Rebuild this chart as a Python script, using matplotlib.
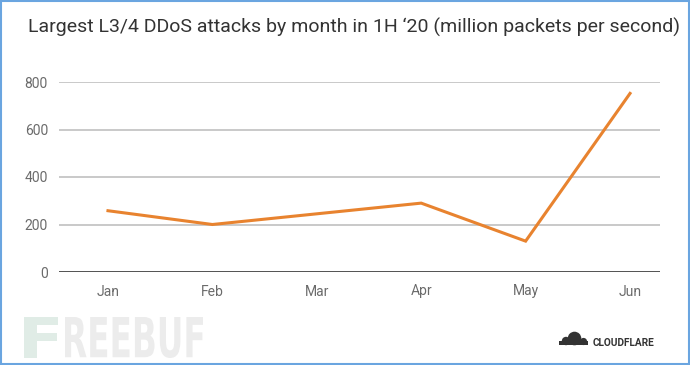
import matplotlib
matplotlib.use("Agg")
import matplotlib.pyplot as plt
from matplotlib.patches import Rectangle, Circle, PathPatch
from matplotlib.textpath import TextPath
from matplotlib.font_manager import FontProperties
from matplotlib.transforms import Affine2D

months = ["Jan", "Feb", "Mar", "Apr", "May", "Jun"]
mpps = [258, 200, 245, 290, 130, 752]
yticks = [0, 200, 400, 600, 800]

plt.rcParams['font.family'] = ['Roboto', 'DejaVu Sans']

W, H = 690, 365
fig = plt.figure(figsize=(W/100, H/100), dpi=100)

# overlay in pixel coordinates for decorations
ov = fig.add_axes([0, 0, 1, 1], zorder=-1)
ov.set_xlim(0, W)
ov.set_ylim(H, 0)
ov.axis('off')

ax = fig.add_axes([59/W, 1-272/H, (660-59)/W, (272-82)/H])
ax.patch.set_alpha(0)

x = list(range(len(months)))
ax.plot(x, mpps, color='#E8832F', lw=2.2, solid_joinstyle='miter')
ax.set_xlim(-0.469, 5.287)
ax.set_ylim(0, 800)
ax.set_yticks(yticks)
ax.set_xticks(x)
ax.set_xticklabels(months)
for y in yticks[1:]:
    ax.axhline(y, color='#c0c0c0', lw=1.2, zorder=0)
ax.axhline(0, color='#444444', lw=1.3, zorder=3)
for s in ax.spines.values():
    s.set_visible(False)
ax.tick_params(length=0, labelsize=10, colors='#6b6b6b', pad=9)
ax.tick_params(axis='y', pad=8)

fig.text(28/W, 1-27/H, "Largest L3/4 DDoS attacks by month in 1H \u201820 (million packets per second)",
         fontsize=14.0, color='#333333', va='center', ha='left')

# watermark, fitted into boxes
def boxed_text(s, x0, x1, y0, y1, color):
    tp = TextPath((0, 0), s, size=50, prop=FontProperties(family='DejaVu Sans', weight='bold'))
    v = tp.vertices
    minx, maxx = v[:, 0].min(), v[:, 0].max()
    miny, maxy = v[:, 1].min(), v[:, 1].max()
    sx = (x1 - x0) / (maxx - minx)
    sy = (y1 - y0) / (maxy - miny)
    tr = Affine2D().translate(-minx, -miny).scale(sx, -sy).translate(x0, y1)
    ov.add_patch(PathPatch(tr.transform_path(tp), color=color, lw=0))

boxed_text("F", 18, 58, 317, 358, '#e0ece6')
boxed_text("REEBUF", 62, 203, 317, 358, '#ececec')

# Cloudflare logo
cc = '#333333'
ov.add_patch(Circle((574.5, 338.5), 6.8, color=cc, lw=0))
ov.add_patch(Circle((566, 341), 4.2, color=cc, lw=0))
ov.add_patch(Circle((583.5, 341.5), 3.6, color=cc, lw=0))
ov.add_patch(Rectangle((559, 341), 29, 4, color=cc, lw=0))
ov.add_patch(Rectangle((566, 340.6), 16, 0.8, color='white', lw=0))
ov.text(593, 342.5, "CLOUDFLARE", fontsize=7.3, fontweight='bold', color=cc,
        va='center', ha='left')

ov.add_patch(Rectangle((0.75, 0.75), W-1.5, H-1.5, fill=False, edgecolor='#6aa5e0', lw=1.5))

fig.savefig("out.png", dpi=100)
